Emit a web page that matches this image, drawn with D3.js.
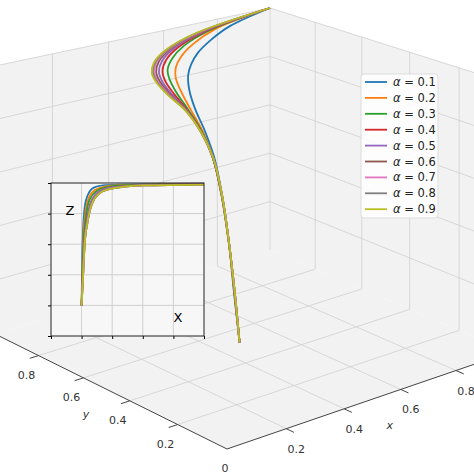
<!DOCTYPE html>
<html><head><meta charset="utf-8">
<script src="https://cdn.jsdelivr.net/npm/d3@7"></script>
<style>body{margin:0;background:#fff}svg{display:block}text{font-family:"DejaVu Sans",sans-serif}</style>
</head><body><svg id="c" width="474" height="474"></svg>
<script>
const alphas = ["0.1","0.2","0.3","0.4","0.5","0.6","0.7","0.8","0.9"];
const colors = ["#1f77b4","#ff7f0e","#2ca02c","#d62728","#9467bd","#8c564b","#e377c2","#7f7f7f","#bcbd22"];
const zLevels = [1.0,0.96,0.92,0.88,0.84,0.80,0.74,0.66,0.56,0.44,0.28,0.08,-0.12,-0.34];
const xSeries = [
 [1.0,.847,.775,.727,.702,.691,.695,.716,.753,.789,.818,.844,.862,.884],
 [1.0,.79,.71,.665,.645,.645,.665,.70,.745,.785,.816,.843,.863,.884],
 [1.0,.77,.675,.632,.615,.622,.648,.692,.742,.784,.816,.843,.864,.884],
 [1.0,.755,.655,.61,.596,.605,.637,.688,.740,.784,.817,.844,.864,.884],
 [1.0,.745,.64,.595,.583,.594,.629,.686,.739,.784,.817,.844,.865,.884],
 [1.0,.735,.628,.583,.573,.586,.624,.684,.738,.784,.818,.844,.865,.884],
 [1.0,.728,.62,.575,.566,.580,.620,.683,.738,.785,.818,.844,.865,.884],
 [1.0,.722,.614,.569,.561,.576,.617,.682,.738,.785,.818,.844,.865,.884],
 [1.0,.717,.609,.565,.557,.573,.615,.681,.738,.785,.818,.844,.865,.884]
];
const tickVals = [0.2,0.4,0.6,0.8];
const zTicks = [0.2,0.4,0.6,0.8,1.0];
const insetTicks = [0,1,2,3,4,5];
const insetX = [
 [1,1.02,1.05,1.1,1.2,1.4,1.7,2.2,3,5],
 [1,1.03,1.06,1.12,1.23,1.45,1.75,2.3,3,5],
 [1,1.03,1.07,1.14,1.26,1.5,1.8,2.3,3,5],
 [1,1.04,1.09,1.17,1.3,1.55,1.85,2.4,3,5],
 [1,1.04,1.09,1.17,1.3,1.55,1.85,2.4,3,5],
 [1,1.05,1.1,1.19,1.33,1.58,1.9,2.4,3,5],
 [1,1.05,1.1,1.19,1.33,1.58,1.9,2.4,3,5],
 [1,1.05,1.1,1.19,1.33,1.58,1.9,2.4,3,5],
 [1,1.05,1.1,1.19,1.33,1.58,1.9,2.4,3,5]
];
const insetYs = [
 [1,2.5,3.5,4.2,4.6,4.85,4.92,4.95,4.96,4.98],
 [1,2.3,3.3,4.0,4.5,4.78,4.88,4.93,4.95,4.97],
 [1,2.2,3.2,3.9,4.45,4.75,4.86,4.92,4.94,4.97],
 [1,2.1,3.1,3.8,4.35,4.7,4.83,4.9,4.93,4.96],
 [1,2.1,3.1,3.8,4.35,4.7,4.83,4.9,4.93,4.96],
 [1,2.0,3.0,3.7,4.3,4.66,4.8,4.88,4.92,4.95],
 [1,2.0,3.0,3.7,4.3,4.66,4.8,4.88,4.92,4.95],
 [1,2.0,3.0,3.7,4.3,4.66,4.8,4.88,4.92,4.95],
 [1,2.0,3.0,3.7,4.3,4.66,4.8,4.88,4.92,4.95]
];

const svg = d3.select("#c");
const P = [[227,449],[510,352],[270,250],[-5,334]];
const Hs = [300,268,242,268];
const [x0,y0]=P[0],[x1,y1]=P[1],[x2,y2]=P[2],[x3,y3]=P[3];
const dx1=x1-x2,dx2=x3-x2,dx3=x0-x1+x2-x3,dy1=y1-y2,dy2=y3-y2,dy3=y0-y1+y2-y3;
const den=dx1*dy2-dx2*dy1;
const g=(dx3*dy2-dx2*dy3)/den, h=(dx1*dy3-dx3*dy1)/den;
const A=x1-x0+g*x1,B=x3-x0+h*x3,C=x0,D=y1-y0+g*y1,E=y3-y0+h*y3,F=y0;
const xs=d3.scaleLinear().domain([0,1]).range([0,1]);
const ys=d3.scaleLinear().domain([0,1]).range([0,1]);
const zs=d3.scaleLinear().domain([0,1]).range([0,1]);
function proj(x,y,z){
  const u=xs(x),v=ys(y),w=zs(z);
  const q=g*u+h*v+1;
  const X=(A*u+B*v+C)/q, Y=(D*u+E*v+F)/q;
  const H=Hs[0]*(1-u)*(1-v)+Hs[1]*u*(1-v)+Hs[2]*u*v+Hs[3]*(1-u)*v;
  return [X,Y-w*H];
}
const pane="#f2f2f2", grid="#d4d4d4";
function poly(pts){svg.append("path").attr("d","M"+pts.map(p=>proj(...p).join(",")).join("L")+"Z").attr("fill",pane).attr("stroke","none");}
poly([[0,0,0],[1,0,0],[1,1,0],[0,1,0]]);
poly([[0,1,0],[1,1,0],[1,1,1],[0,1,1]]);
poly([[1,0,0],[1,1,0],[1,1,1],[1,0,1]]);
function seg(a,b,col,w){const p=proj(...a),q=proj(...b);svg.append("line").attr("x1",p[0]).attr("y1",p[1]).attr("x2",q[0]).attr("y2",q[1]).attr("stroke",col).attr("stroke-width",w);}
tickVals.forEach(t=>{
  seg([t,0,0],[t,1,0],grid,0.9); seg([0,t,0],[1,t,0],grid,0.9);
  seg([t,1,0],[t,1,1],grid,0.9); seg([1,t,0],[1,t,1],grid,0.9);
});
zTicks.forEach(t=>{seg([0,1,t],[1,1,t],grid,0.9);seg([1,0,t],[1,1,t],grid,0.9);});
seg([1,1,0],[1,1,1],grid,0.9);
seg([0,0,0],[1.05,0,0],"#444",1); seg([0,0,0],[0,1.05,0],"#444",1);
function txt(x,y,s,it){svg.append("text").attr("x",x).attr("y",y).attr("text-anchor","middle").attr("font-size",11).attr("font-style",it?"italic":null).attr("fill","#333").text(s);}
tickVals.forEach(t=>{
  seg([t,0,0],[t,-0.03,0],"#444",1);
  seg([0,t,0],[-0.03,t,0],"#444",1);
  let p=proj(t,0,0); txt(p[0]+10,p[1]+24,t.toFixed(1));
  p=proj(0,t,0); txt(p[0]-12,p[1]+23,t.toFixed(1));
});
txt(225,472,"0");
let pl=proj(0.5,0,0); txt(pl[0]+17,pl[1]+30,"x",true);
pl=proj(0,0.55,0); txt(pl[0]-9,pl[1]+34,"y",true);
const line3=d3.line().curve(d3.curveCatmullRom);
xSeries.forEach((xsr,i)=>{
  const pts=xsr.map((x,j)=>proj(x,1,zLevels[j]));
  svg.append("path").attr("d",line3(pts)).attr("fill","none").attr("stroke",colors[i]).attr("stroke-width",1.8);
});
const lg=svg.append("g");
lg.append("rect").attr("x",361).attr("y",74).attr("width",77).attr("height",144).attr("rx",3).attr("fill","#fff").attr("fill-opacity",0.85).attr("stroke","#ddd");
alphas.forEach((a,i)=>{
  const y=82+i*15.9;
  lg.append("line").attr("x1",365).attr("x2",387).attr("y1",y).attr("y2",y).attr("stroke",colors[i]).attr("stroke-width",1.8);
  const t=lg.append("text").attr("x",393).attr("y",y+4).attr("font-size",11.5).attr("fill","#222");
  t.append("tspan").attr("font-style","italic").text("α");
  t.append("tspan").text(" = "+a);
});
const ix=d3.scaleLinear().domain([0,5]).range([51,204]);
const iy=d3.scaleLinear().domain([0,5]).range([336,183]);
const ig=svg.append("g");
ig.append("rect").attr("x",51).attr("y",183).attr("width",153).attr("height",153).attr("fill","#f7f7f7");
insetTicks.slice(1,5).forEach(t=>{
  ig.append("line").attr("x1",ix(t)).attr("x2",ix(t)).attr("y1",183).attr("y2",336).attr("stroke","#cfcfcf");
  ig.append("line").attr("y1",iy(t)).attr("y2",iy(t)).attr("x1",51).attr("x2",204).attr("stroke","#cfcfcf");
});
ig.append("g").attr("transform","translate(0,336)").call(d3.axisBottom(ix).tickValues(insetTicks).tickSize(3).tickFormat("")).call(s=>s.select(".domain").remove());
ig.append("g").attr("transform","translate(51,0)").call(d3.axisLeft(iy).tickValues(insetTicks).tickSize(3).tickFormat("")).call(s=>s.select(".domain").remove());
const il=d3.line().x(d=>ix(d[0])).y(d=>iy(d[1])).curve(d3.curveMonotoneX);
insetX.forEach((xa,i)=>{
  ig.append("path").attr("d",il(xa.map((x,j)=>[x,insetYs[i][j]]))).attr("fill","none").attr("stroke",colors[i]).attr("stroke-width",1.8);
});
ig.append("rect").attr("x",51).attr("y",183).attr("width",153).attr("height",153).attr("fill","none").attr("stroke","#222").attr("stroke-width",1);
ig.append("text").attr("x",70).attr("y",215).attr("text-anchor","middle").attr("font-size",13).text("Z");
ig.append("text").attr("x",178).attr("y",322).attr("text-anchor","middle").attr("font-size",13).text("X");
</script></body></html>
